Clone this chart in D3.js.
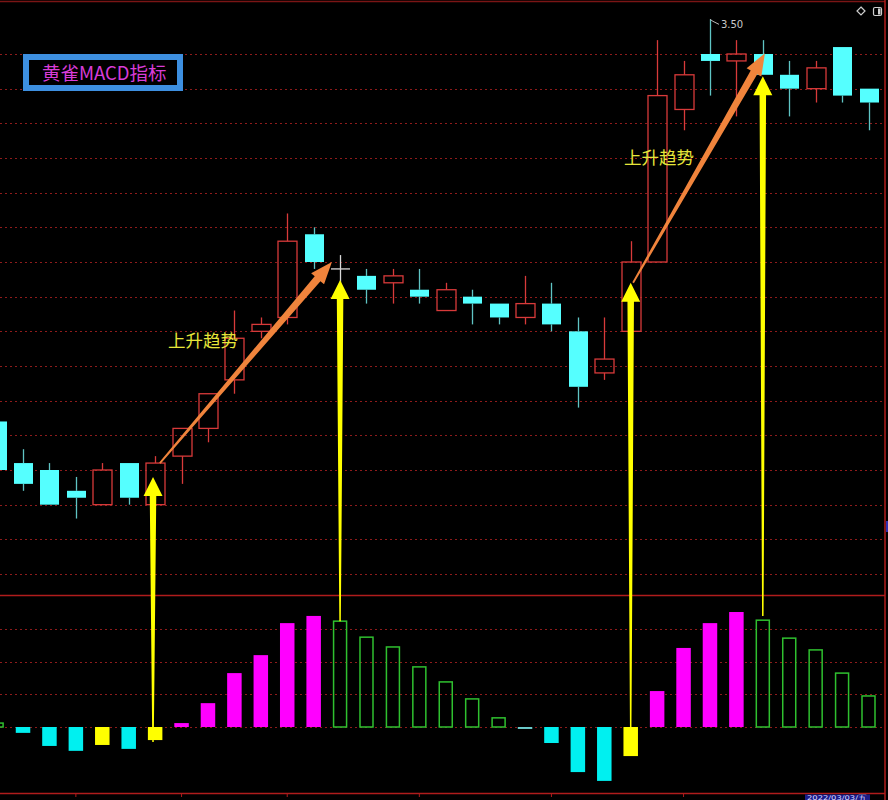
<!DOCTYPE html>
<html><head><meta charset="utf-8">
<script src="https://cdn.jsdelivr.net/npm/d3@7"></script>
<style>html,body{margin:0;padding:0;background:#000;overflow:hidden}svg{display:block}</style>
</head><body>
<script>
// ---------- data ----------
const days  = [0,1,2,3,4,5,6,7,8,9,10,11,12,13,14,15,16,17,18,19,20,21,22,23,24,25,26,27,28,29,30,31,32,33];
const open  = [2.92,2.86,2.85,2.82,2.80,2.86,2.80,2.87,2.91,2.98,3.05,3.07,3.19,3.14,3.13,3.12,3.11,3.08,3.10,3.09,3.07,3.09,3.05,2.99,3.05,3.15,3.37,3.45,3.44,3.45,3.42,3.40,3.46,3.40];
const high  = [2.925,2.88,2.86,2.84,2.86,2.86,2.87,2.91,2.96,3.08,3.07,3.22,3.20,3.16,3.14,3.14,3.14,3.12,3.11,3.09,3.13,3.12,3.07,3.07,3.18,3.47,3.44,3.50,3.47,3.47,3.44,3.44,3.46,3.40];
const low   = [2.845,2.82,2.80,2.78,2.80,2.80,2.80,2.83,2.89,2.96,3.04,3.06,3.14,3.12,3.09,3.09,3.09,3.08,3.06,3.06,3.06,3.05,2.94,2.98,3.05,3.15,3.34,3.39,3.36,3.42,3.36,3.38,3.38,3.34];
const close = [2.85,2.83,2.80,2.81,2.85,2.81,2.86,2.91,2.96,3.04,3.06,3.18,3.15,3.14,3.11,3.13,3.10,3.11,3.09,3.07,3.09,3.06,2.97,3.01,3.15,3.39,3.42,3.44,3.45,3.42,3.40,3.43,3.39,3.38];
const macd  = [0.0012,-0.0018,-0.0058,-0.0073,-0.0055,-0.0067,-0.0040,0.0012,0.0073,0.0165,0.0220,0.0318,0.0340,0.0324,0.0275,0.0245,0.0184,0.0138,0.0086,0.0028,-0.0006,-0.0049,-0.0138,-0.0165,-0.0089,0.0110,0.0242,0.0318,0.0352,0.0327,0.0272,0.0236,0.0165,0.0095];
const macdPrev0 = 0.0030;
const priceTicks = [2.70,2.75,2.80,2.85,2.90,2.95,3.00,3.05,3.10,3.15,3.20,3.25,3.30,3.35,3.40,3.45];
const macdTicks  = [0,0.01,0.02,0.03];
const title = "黄雀MACD指标";
const trendText = "上升趋势";
// trend arrows: [fromDay, fromPrice, toDay, toPrice]
const trendArrows = [[6.18,2.86,12.69,3.15],[24.09,3.12,29.08,3.451]];
const trendLabels = [[6.49,3.036],[23.75,3.301]];
// signal arrows: [day, macd value at foot, price at tip]
const signalArrows = [[5.92,-0.0046,2.84],[13,0.0324,3.124],[24,0.0,3.12],[29,0.034,3.418]];
const highLabel = {day:27, text:"3.50"};
const dateLabel = "2022/03/03/五";
const tickDays = [3,7,11,16,21,26];

// ---------- layout ----------
const W = 888, H = 800;
const svg = d3.select("body").append("svg").attr("width",W).attr("height",H).style("background","#000");
const x = d3.scaleLinear().domain([0,33]).range([-3.4,868.5]);
const y = d3.scaleLinear().domain([2.70,3.50]).range([574,19.33]);
const ym = d3.scaleLinear().domain([0,0.03]).range([727,629]);
const RIGHT = 885;
const font = "'Noto Sans CJK SC','Noto Sans',sans-serif";

// grid
const gridColor = "#8e1b1b";
svg.append("g").selectAll("line").data(priceTicks).join("line")
  .attr("x1",0).attr("x2",RIGHT).attr("y1",d=>Math.round(y(d))+0.5).attr("y2",d=>Math.round(y(d))+0.5)
  .attr("stroke",gridColor).attr("stroke-width",1).attr("stroke-dasharray","2,3");
svg.append("g").selectAll("line").data(macdTicks).join("line")
  .attr("x1",0).attr("x2",RIGHT).attr("y1",d=>Math.round(ym(d))+0.5).attr("y2",d=>Math.round(ym(d))+0.5)
  .attr("stroke",gridColor).attr("stroke-width",1).attr("stroke-dasharray","2,3");

// frame
const frame = svg.append("g").attr("stroke","#b01c1c").attr("stroke-width",1.5);
frame.append("line").attr("x1",0).attr("x2",RIGHT).attr("y1",1.5).attr("y2",1.5).attr("stroke","#7a1515");
frame.append("line").attr("x1",0).attr("x2",RIGHT).attr("y1",595.5).attr("y2",595.5);
frame.append("line").attr("x1",0).attr("x2",RIGHT).attr("y1",793.5).attr("y2",793.5);
frame.append("line").attr("x1",RIGHT).attr("x2",RIGHT).attr("y1",0).attr("y2",H);
svg.append("g").selectAll("line").data(tickDays).join("line")
  .attr("x1",d=>x(d)).attr("x2",d=>x(d)).attr("y1",794).attr("y2",797)
  .attr("stroke","#b01c1c").attr("stroke-width",1);

// candles
const candles = days.map((d,i)=>({d,o:open[i],h:high[i],l:low[i],c:close[i]}));
const UP = "#d83a3a", DOWN_FILL = "#55ffff", DOWN_WICK = "#5fc4c4", FLAT="#d8d8d8";
const bw = 19;
const cg = svg.append("g").selectAll("g").data(candles).join("g");
cg.each(function(k){
  const g = d3.select(this);
  const cx = Math.round(x(k.d))+0.5;
  const col = k.c>k.o?UP:(k.c<k.o?DOWN_WICK:FLAT);
  const top = y(Math.max(k.o,k.c)), bot = y(Math.min(k.o,k.c));
  g.append("line").attr("x1",cx).attr("x2",cx).attr("y1",y(k.h)).attr("y2",top).attr("stroke",col).attr("stroke-width",1.3);
  g.append("line").attr("x1",cx).attr("x2",cx).attr("y1",bot).attr("y2",y(k.l)).attr("stroke",col).attr("stroke-width",1.3);
  if(k.c>k.o){
    g.append("rect").attr("x",cx-bw/2).attr("y",top).attr("width",bw).attr("height",Math.max(1,bot-top))
      .attr("fill","none").attr("stroke",UP).attr("stroke-width",1.3);
  } else if(k.c<k.o){
    g.append("rect").attr("x",cx-bw/2).attr("y",top).attr("width",bw).attr("height",Math.max(1,bot-top))
      .attr("fill",DOWN_FILL);
  } else {
    g.append("line").attr("x1",cx-bw/2).attr("x2",cx+bw/2).attr("y1",top).attr("y2",top).attr("stroke",FLAT).attr("stroke-width",1.3);
  }
});

// MACD bars
const mw = 14.5;
const mg = svg.append("g");
macd.forEach((v,i)=>{
  const prev = i===0?macdPrev0:macd[i-1];
  const cx = x(days[i]);
  const y0 = ym(0), y1 = ym(v);
  if(v>=0){
    if(v>=prev){
      mg.append("rect").attr("x",cx-mw/2).attr("y",y1).attr("width",mw).attr("height",Math.max(1,y0-y1)).attr("fill","#ff00ff");
    } else {
      mg.append("rect").attr("x",cx-mw/2+0.75).attr("y",y1).attr("width",mw-1.5).attr("height",Math.max(1,y0-y1))
        .attr("fill","none").attr("stroke","#2fc02f").attr("stroke-width",1.5);
    }
  } else {
    const col = v<=prev?"#00f0f0":"#ffff00";
    mg.append("rect").attr("x",cx-mw/2).attr("y",y0).attr("width",mw).attr("height",Math.max(1.5,y1-y0))
      .attr("fill",Math.abs(v)<0.001?"#6ccccc":col);
  }
});

// arrow helper
function arrowPath(x1,y1,x2,y2,w0,w1,hl,hw){
  const dx=x2-x1, dy=y2-y1, L=Math.hypot(dx,dy);
  const ux=dx/L, uy=dy/L, nx=-uy, ny=ux;
  const bx=x2-ux*hl, by=y2-uy*hl;
  const pts=[[x1+nx*w0/2,y1+ny*w0/2],[bx+nx*w1/2,by+ny*w1/2],[bx+nx*hw/2,by+ny*hw/2],[x2,y2],
             [bx-nx*hw/2,by-ny*hw/2],[bx-nx*w1/2,by-ny*w1/2],[x1-nx*w0/2,y1-ny*w0/2]];
  return "M"+pts.map(p=>p.join(",")).join("L")+"Z";
}

// signal arrows (yellow)
svg.append("g").selectAll("path").data(signalArrows).join("path")
  .attr("d",a=>arrowPath(x(a[0]),ym(a[1]),x(a[0]),y(a[2]),1.5,6.5,19,19))
  .attr("fill","#ffff00");

// trend arrows (orange)
svg.append("g").selectAll("path").data(trendArrows).join("path")
  .attr("d",a=>arrowPath(x(a[0]),y(a[1]),x(a[2]),y(a[3]),1.8,7.5,22,17))
  .attr("fill","#f0843c");

// trend labels
svg.append("g").selectAll("text").data(trendLabels).join("text")
  .attr("x",a=>x(a[0])).attr("y",a=>y(a[1])).attr("dy","0.36em")
  .attr("font-family",font).attr("font-size",17.5).attr("fill","#e6e63a").text(trendText);

// title box
svg.append("rect").attr("x",26).attr("y",57).attr("width",154).attr("height",31)
  .attr("fill","#000").attr("stroke","#3d8fe0").attr("stroke-width",6);
svg.append("text").attr("x",42).attr("y",73).attr("dy","0.36em")
  .attr("font-family",font).attr("font-size",18.5).attr("fill","#d83cd8").text(title);

// high label
const hx = x(highLabel.day), hy = y(high[highLabel.day]);
svg.append("path").attr("d",`M${hx},${hy}L${hx+3},${hy+2}L${hx+9},${hy+5}`).attr("stroke","#bbbbbb").attr("fill","none").attr("stroke-width",1);
svg.append("text").attr("x",hx+11).attr("y",hy+5).attr("dy","0.35em")
  .attr("font-family","'DejaVu Sans',sans-serif").attr("font-size",10).attr("fill","#c8c8c8").text(highLabel.text);

// top-right icons
svg.append("path").attr("d","M861,7L865,11L861,15L857,11Z").attr("fill","none").attr("stroke","#cfcfcf").attr("stroke-width",1.2);
svg.append("rect").attr("x",873.5).attr("y",7.5).attr("width",8).attr("height",8).attr("rx",1.5).attr("fill","none").attr("stroke","#cfcfcf").attr("stroke-width",1.2);
svg.append("rect").attr("x",878).attr("y",8.5).attr("width",2.5).attr("height",6).attr("fill","#cfcfcf");

// right axis cut label & date label
svg.append("rect").attr("x",886).attr("y",521).attr("width",2).attr("height",11).attr("fill","#3030b0");
svg.append("rect").attr("x",805).attr("y",794.5).attr("width",65).attr("height",5.5).attr("fill","#1c1c88");
svg.append("text").attr("x",807).attr("y",799.5).attr("font-family","'DejaVu Sans',sans-serif").attr("font-size",6.5)
  .attr("textLength",60).attr("lengthAdjust","spacingAndGlyphs")
  .attr("fill","#d8d8ff").text(dateLabel);
</script>
</body></html>
